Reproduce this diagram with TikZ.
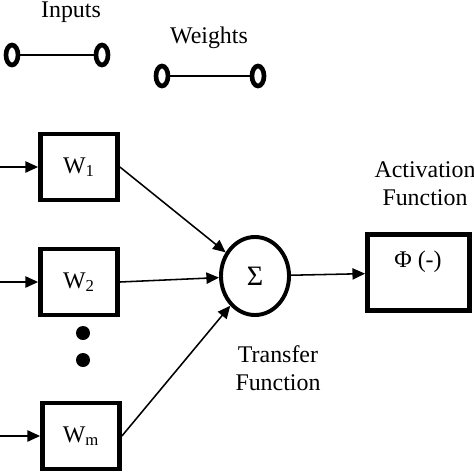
\documentclass[tikz,border=0pt]{standalone}
\usepackage{fontspec}
\setmainfont{Liberation Serif}
\usetikzlibrary{shapes.geometric, arrows.meta, positioning}

\tikzset{
  wbox/.style={draw, line width=3.4pt, minimum width=1.925cm, minimum height=1.65cm, inner sep=0pt},
  ring/.style={draw, ellipse, line width=3.3pt, minimum width=0.3cm, minimum height=0.5cm, inner sep=0pt},
  dot/.style={circle, fill, minimum size=0.35cm, inner sep=0pt},
  arr/.style={-{Triangle[length=9pt,width=8pt]}, line width=1.1pt},
}

\begin{document}
\begin{tikzpicture}[x=0.025cm, y=-0.025cm, font=\fontsize{17}{19.8}\selectfont]
    \useasboundingbox (0,0) rectangle (474,474);
    % legend at the top
    \node[anchor=base] (inlbl) at (71,17) {Inputs};
    \node[ring] (ina) at (12,55) {};
    \node[ring] (inb) at (102,55) {};
    \draw[line width=1pt] (ina) -- (inb);
    \node[anchor=base] (wlbl) at (209,43) {Weights};
    \node[ring] (wa) at (162,76) {};
    \node[ring] (wb) at (258,76) {};
    \draw[line width=1pt] (wa) -- (wb);
    % weight boxes
    \node[wbox] (w1) at (79,167) {W\textsubscript{1}};
    \node[wbox] (w2) at (79,282) {W\textsubscript{2}};
    \node[wbox] (wm) at (81,436) {W\textsubscript{m}};
    \node[dot] (dot1) at (83,333) {};
    \node[dot] (dot2) at (83,360) {};
    \coordinate (x1) at (0,167);
    \coordinate (x2) at (0,282);
    \coordinate (xm) at (0,436);
    \draw[arr] (x1) -- (w1.west);
    \draw[arr] (x2) -- (w2.west);
    \draw[arr] (xm) -- (wm.west);
    % summing junction and activation
    \node[draw, ellipse, line width=2.8pt, minimum width=1.7cm, minimum height=1.95cm, inner sep=0pt, font=\fontsize{20}{22}\selectfont] (sum) at (255,276) {Σ};
    \node[draw, line width=3.4pt, minimum width=2.55cm, minimum height=1.9cm] (act) at (418.5,272.5) {};
    \node (phi) at (418,262) {Φ (-)};
    \draw[arr] (w1.east) -- (sum);
    \draw[arr] (w2.east) -- (sum);
    \draw[arr] (wm.east) -- (sum);
    \draw[arr] (sum) -- (act);
    \node[align=center, anchor=base] (tlbl) at (278,390) {Transfer\\Function};
    \node[align=center, anchor=base] (albl) at (425,205) {Activation\\Function};
\end{tikzpicture}
\end{document}
